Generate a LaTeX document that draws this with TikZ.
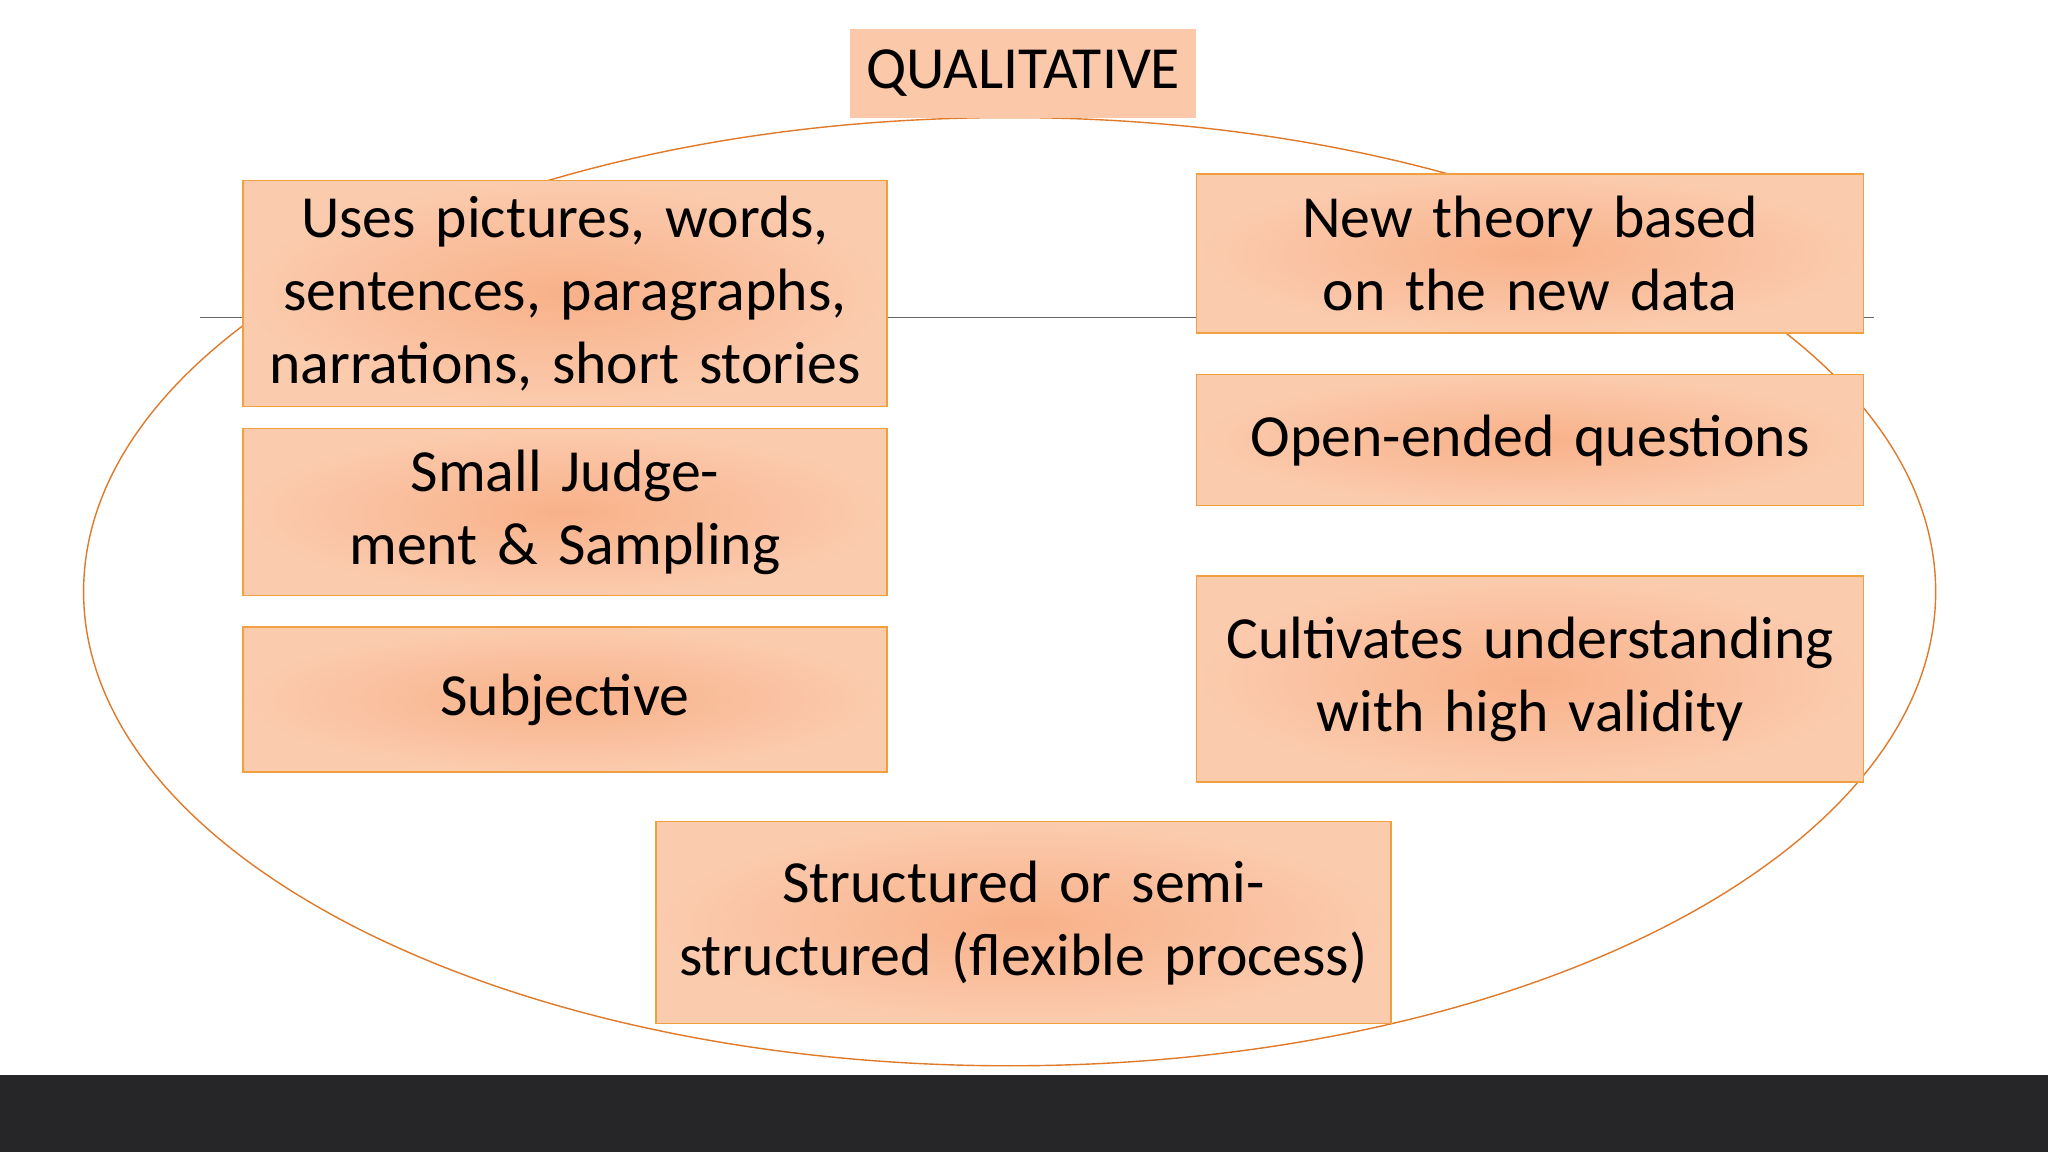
\documentclass[tikz,border=0pt]{standalone}
\usepackage{fontspec}
\setmainfont{Carlito}
\usepackage{xcolor}
\definecolor{boxin}{HTML}{F8B189}
\definecolor{boxout}{HTML}{FBCBAE}
\definecolor{boxline}{HTML}{F0A040}
\definecolor{ringline}{HTML}{E07A2A}
\definecolor{barfill}{HTML}{262628}
\tikzset{
    tbox/.style = {align=center, inner sep=0pt, text centered, font=\fontsize{17}{20.8}\selectfont},
    qbox/.style = {tbox, rectangle, draw=boxline, thin, inner color=boxin, outer color=boxout, text width=6.2cm, minimum width=6.44cm},
    rbox/.style = {qbox, text width=6.4cm, minimum width=6.67cm},
    title/.style = {tbox, rectangle, fill=boxout!90!boxin, minimum width=3.46cm, minimum height=0.89cm, font=\fontsize{17}{20}\selectfont}
}
\begin{document}
\begin{tikzpicture}[x=0.01306cm, y=-0.01306cm]
    \useasboundingbox (0,0) rectangle (1568,882);
    \fill[white] (0,0) rectangle (1568,882);
    \fill[barfill] (0,823) rectangle (1568,882);
    \coordinate (ll) at (153,243);
    \coordinate (lr) at (1435,243);
    \draw[gray!80!black, thin] (ll) -- (lr);
    \draw[ringline, thin] (773,453) ellipse [x radius=709, y radius=363];
    \node [title] (qual) at (783.5,56) {QUALITATIVE};
    \node [qbox, minimum height=2.26cm] (uses) at (432.5,224.5) {Uses pictures, words, sentences, paragraphs, narrations, short stories};
    \node [qbox, minimum height=1.67cm] (small) at (432.5,392) {Small Judgement \& Sampling};
    \node [qbox, minimum height=1.45cm] (subj) at (432.5,535.5) {Subjective};
    \node [rbox, minimum height=1.59cm] (theory) at (1171.5,194) {New theory based on the new data};
    \node [rbox, minimum height=1.31cm] (open) at (1171.5,337) {Open-ended questions};
    \node [rbox, minimum height=2.06cm] (cult) at (1171.5,520) {Cultivates understanding with high validity};
    \node [qbox, text width=7.1cm, minimum width=7.35cm, minimum height=2.02cm] (struct) at (783.5,706.5) {Structured or semi-\\structured (flexible process)};
\end{tikzpicture}
\end{document}
